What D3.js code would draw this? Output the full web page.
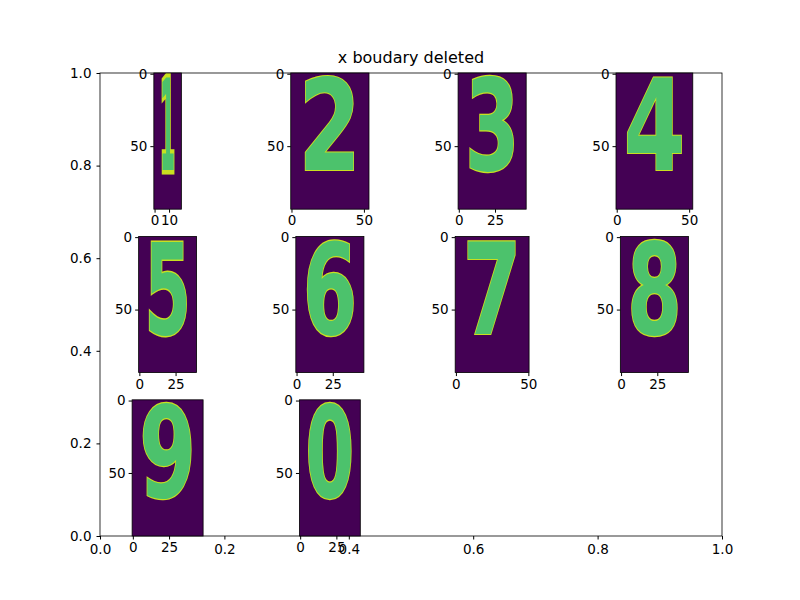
<!DOCTYPE html>
<html><head><meta charset="utf-8">
<script src="https://cdn.jsdelivr.net/npm/d3@7"></script>
<style>body{margin:0;background:#fff}text{font-family:"DejaVu Sans",sans-serif}</style>
</head><body>
<svg id="c" width="800" height="600"></svg>
<script>
const title = "x boudary deleted";
const digits = ["1","2","3","4","5","6","7","8","9","0"];
const imgW = [19,54,47,53,40,47,51,47,49,42];
const imgH = [94,94,94,94,94,94,94,94,94,94];
const xTicks = [[0,10],[0,50],[0,25],[0,50],[0,25],[0,25],[0,50],[0,25],[0,25],[0,25]];
const yTicks = [0,50];
const mainTicks = [0,0.2,0.4,0.6,0.8,1.0];

const svg = d3.select("#c");
const L=100,R=722,T=73,B=536;
const x = d3.scaleLinear().domain([0,1]).range([L,R]);
const y = d3.scaleLinear().domain([0,1]).range([B,T]);
const fs = 13.5;

svg.append("g").attr("transform",`translate(0,${B})`)
  .call(d3.axisBottom(x).tickValues(mainTicks).tickFormat(d3.format(".1f")).tickSizeOuter(0).tickSize(3.5).tickPadding(5));
svg.append("g").attr("transform",`translate(${L},0)`)
  .call(d3.axisLeft(y).tickValues(mainTicks).tickFormat(d3.format(".1f")).tickSizeOuter(0).tickSize(3.5).tickPadding(5));
svg.append("rect").attr("x",L).attr("y",T).attr("width",R-L).attr("height",B-T).attr("fill","none").attr("stroke","#000").attr("stroke-width",0.8);
svg.selectAll(".domain").remove();
svg.selectAll(".tick text").attr("font-size",fs).attr("fill","#000");
svg.append("text").attr("x",(L+R)/2).attr("y",T-10).attr("text-anchor","middle").attr("font-size",16).text(title);

const cols=4, rows=3, ws=0.2;
const cw=(R-L)/(cols+(cols-1)*ws), ch=(B-T)/(rows+(rows-1)*ws);
digits.forEach((dg,i)=>{
  const r=Math.floor(i/cols), c=i%cols;
  const cx=L+c*cw*(1+ws)+cw/2, cy=T+r*ch*(1+ws)+ch/2;
  const w=imgW[i], h=imgH[i];
  const k=Math.min(cw/w,ch/h);
  const x0=cx-w*k/2, y0=cy-h*k/2;
  const sx=d3.scaleLinear().domain([-0.5,w-0.5]).range([x0,x0+w*k]);
  const sy=d3.scaleLinear().domain([-0.5,h-0.5]).range([y0,y0+h*k]);
  const g=svg.append("g");
  g.append("rect").attr("x",x0).attr("y",y0).attr("width",w*k).attr("height",h*k).attr("fill","#440154");
  const clip="cl"+i;
  g.append("clipPath").attr("id",clip).append("rect").attr("x",x0).attr("y",y0).attr("width",w*k).attr("height",h*k);
  const t=g.append("g").attr("clip-path",`url(#${clip})`).append("text")
    .attr("font-size",h*k).attr("font-family","'Liberation Sans'").attr("font-weight","bold").attr("fill","#4cc26c")
    .attr("stroke","#c8e020").attr("paint-order","stroke")
    .text(dg);
  const bb=t.node().getBBox();
  const tw=w*k*(dg==="1"?0.55:0.8), th=h*k*0.78;
  const s1=tw/bb.width, s2=th/(bb.height*0.72);
  t.attr("transform",`translate(${cx},${cy}) scale(${s1},${s2}) translate(${-(bb.x+bb.width/2)},${-(bb.y+bb.height*0.6)})`)
   .attr("stroke-width",1.5/Math.min(s1,s2));
  g.append("g").attr("transform",`translate(0,${y0+h*k})`)
    .call(d3.axisBottom(sx).tickValues(xTicks[i]).tickSize(3.5).tickPadding(3))
    .call(a=>a.select(".domain").remove()).selectAll("text").attr("font-size",fs);
  g.append("g").attr("transform",`translate(${x0},0)`)
    .call(d3.axisLeft(sy).tickValues(yTicks).tickSize(3.5).tickPadding(3))
    .call(a=>a.select(".domain").remove()).selectAll("text").attr("font-size",fs);
  g.append("rect").attr("x",x0).attr("y",y0).attr("width",w*k).attr("height",h*k).attr("fill","none").attr("stroke","#000").attr("stroke-width",0.8);
});
</script>
</body></html>
